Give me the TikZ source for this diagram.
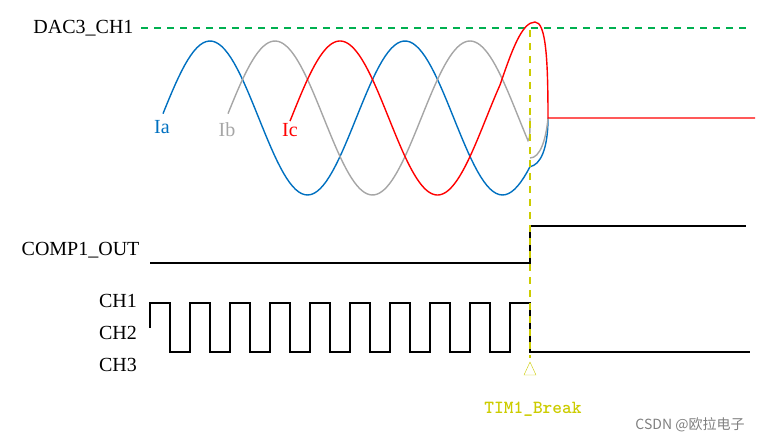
\documentclass[tikz,border=0pt]{standalone}
\usepackage{fontspec}
\setmainfont{Liberation Serif}
\newfontfamily\cjk{Noto Sans CJK SC}
\begin{document}
\begin{tikzpicture}[x=1pt,y=-1pt,
  lbl/.style={font=\fontsize{20}{20}\selectfont},
  wave/.style={line width=1.4pt},
  sig/.style={line width=1.1pt,black}]
\definecolor{cblue}{RGB}{0,112,192}
\definecolor{cgray}{RGB}{166,166,166}
\definecolor{cred}{RGB}{255,0,0}
\definecolor{cgreen}{RGB}{0,176,80}
\definecolor{cyel}{RGB}{204,204,0}
\useasboundingbox (0,0) rectangle (774,443);
% dac line
\node[lbl,anchor=east] (dac) at (137,28) {DAC3\_CH1};
\coordinate (dacR) at (750,28);
\draw[cgreen,line width=1.2pt,dash pattern=on 7pt off 6pt] (dac.east)++(4,0) -- (dacR);
% waves
\draw[wave,cblue] plot[domain=163:530,samples=120] (\x,{118-77*cos((\x-210)/195*360)})
  .. controls (540,165) and (548,150) .. (548,118);
\draw[wave,cgray] plot[domain=228:528,samples=120] (\x,{118-77*cos((\x-275)/195*360)})
  .. controls (530,140) and (530,130) .. (530,118);
\draw[wave,cgray] (530,158) .. controls (540,158) and (546,140) .. (548,118);
\draw[wave,cred] plot[domain=290:500,samples=120] (\x,{118-77*cos((\x-340)/195*360)})
  .. controls (512,50) and (522,22) .. (535,22) .. controls (546,22) and (548,60) .. (548,118) -- (755,118);
\node[lbl,cblue] (ia) at (162,127) {Ia};
\node[lbl,cgray] (ib) at (227,130) {Ib};
\node[lbl,cred] (ic) at (290,130) {Ic};
% comp
\node[lbl,anchor=east] (comp) at (143,250) {COMP1\_OUT};
\draw[sig] (150,263) -- (530,263) -- (530,226) -- (746,226);
% pwm
\node[lbl] (ch1) at (118,301) {CH1};
\node[lbl] (ch2) at (118,333) {CH2};
\node[lbl] (ch3) at (118,365) {CH3};
\draw[sig] (150,328) -- (150,303)
  \foreach \i in {0,...,8} { -- ({150+40*\i+20},303) -- ({150+40*\i+20},352) -- ({150+40*\i+40},352) -- ({150+40*\i+40},303) }
  -- (530,303) -- (530,352) -- (750,352);
% break
\draw[cyel,line width=1.2pt,dash pattern=on 7pt off 6pt] (530,30) -- (530,358);
\draw[cyel,fill=white] (524,375) -- (530,362) -- (536,375) -- cycle;
\node[cyel,font=\ttfamily\bfseries\fontsize{18.5}{18.5}\selectfont] (brk) at (533,409) {TIM1\_Break};
\node[gray,font=\cjk\fontsize{14}{14}\selectfont] (wm) at (690,425) {CSDN @欧拉电子};
\end{tikzpicture}
\end{document}
